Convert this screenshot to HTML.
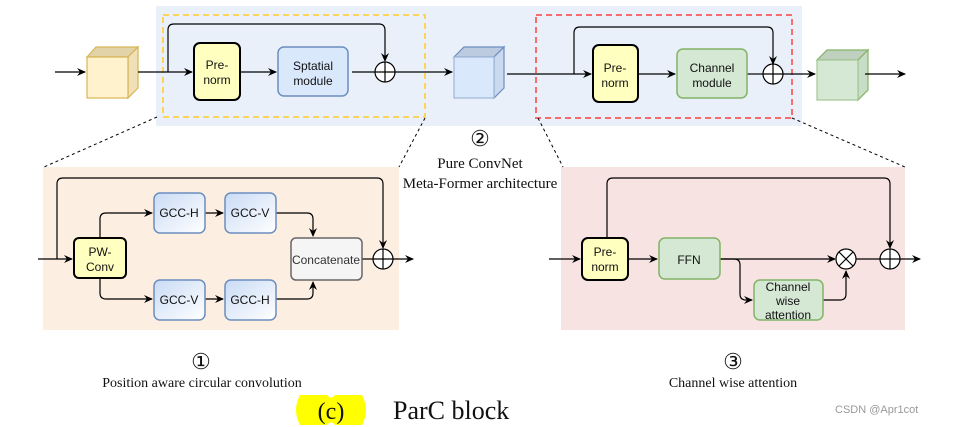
<!DOCTYPE html>
<html><head><meta charset="utf-8"><style>
html,body{margin:0;padding:0;background:#fff;}
svg{display:block;}
.s{font-family:"Liberation Sans",sans-serif;font-size:12px;fill:#111;}
.t{font-family:"Liberation Serif",serif;fill:#111;}
</style></head><body>
<svg width="961" height="427" viewBox="0 0 961 427" xmlns="http://www.w3.org/2000/svg">
<defs>
<marker id="a" markerWidth="10" markerHeight="10" refX="8" refY="5" orient="auto" markerUnits="userSpaceOnUse"><path d="M0,1 L9,5 L0,9 L3,5 Z" fill="#000"/></marker>
<linearGradient id="g" x1="0" y1="0" x2="1" y2="1"><stop offset="0" stop-color="#c9dbf5"/><stop offset="1" stop-color="#ffffff"/></linearGradient>
</defs>
<rect x="156" y="6" width="646" height="120" fill="#e9f0fa"/>
<rect x="43" y="167" width="356" height="163" fill="#fdeee2"/>
<rect x="561" y="167" width="344" height="163" fill="#f8e3e3"/>
<rect x="163" y="15" width="262" height="102" fill="none" stroke="#fdd35a" stroke-width="2" stroke-dasharray="6,4"/>
<rect x="536" y="15" width="256" height="103" fill="none" stroke="#fb6b6b" stroke-width="2" stroke-dasharray="6,4"/>
<g stroke="#000" stroke-width="1" stroke-dasharray="3,3">
<line x1="157" y1="117" x2="44" y2="167"/><line x1="425" y1="118" x2="399" y2="167"/>
<line x1="538" y1="118" x2="563" y2="167"/><line x1="792" y1="118" x2="905" y2="167"/>
</g>
<g stroke-width="1.2">
<path d="M87,57 L96,47 L138,47 L128,57 Z" fill="#e3d3a8" stroke="#d6b656"/>
<path d="M128,57 L138,47 L138,88 L128,98 Z" fill="#efe0b8" stroke="#d6b656"/>
<rect x="87" y="57" width="41" height="41" fill="#fff2cc" stroke="#d6b656"/>
<path d="M454,57 L464,47 L504,47 L494,57 Z" fill="#bccbe0" stroke="#6c8ebf"/>
<path d="M494,57 L504,47 L504,88 L494,98 Z" fill="#c9d9ef" stroke="#6c8ebf"/>
<rect x="454" y="57" width="40" height="41" fill="#dae8fc" stroke="#9fb6d8"/>
<path d="M817,60 L827,50 L868,50 L858,60 Z" fill="#bfd0be" stroke="#82b366"/>
<path d="M858,60 L868,50 L868,90 L858,100 Z" fill="#c9dcc8" stroke="#82b366"/>
<rect x="817" y="60" width="41" height="40" fill="#d5e8d4" stroke="#a3c794"/>
</g>
<g stroke="#000" stroke-width="1.2" fill="none">
<line x1="55" y1="72" x2="85" y2="72" marker-end="url(#a)"/>
<line x1="138" y1="72" x2="192" y2="72" marker-end="url(#a)"/>
<path d="M168,72 V30 Q168,24 174,24 H379 Q385,24 385,30 V61" marker-end="url(#a)"/>
<line x1="240" y1="72" x2="276" y2="72" marker-end="url(#a)"/>
<line x1="352" y1="72" x2="375" y2="72"/>
<line x1="395" y1="72" x2="452" y2="72" marker-end="url(#a)"/>
<circle cx="385" cy="72" r="10" fill="#fff"/><line x1="375" y1="72" x2="395" y2="72"/><line x1="385" y1="62" x2="385" y2="82"/>
<line x1="507" y1="74" x2="591" y2="74" marker-end="url(#a)"/>
<path d="M574,74 V33 Q574,27 580,27 H767 Q773,27 773,33 V64" marker-end="url(#a)"/>
<line x1="638" y1="74" x2="675" y2="74" marker-end="url(#a)"/>
<line x1="747" y1="74" x2="763" y2="74"/>
<line x1="783" y1="74" x2="815" y2="74" marker-end="url(#a)"/>
<line x1="865" y1="74" x2="905" y2="74" marker-end="url(#a)"/>
<circle cx="773" cy="74" r="10" fill="#fff"/><line x1="763" y1="74" x2="783" y2="74"/><line x1="773" y1="64" x2="773" y2="84"/>
</g>
<rect x="194" y="43" width="46" height="57" rx="6" fill="#ffffc0" stroke="#000" stroke-width="2"/>
<text class="s" x="217" y="69" text-anchor="middle">Pre-</text><text class="s" x="217" y="84" text-anchor="middle">norm</text>
<rect x="278" y="47" width="70" height="49" rx="6" fill="#dae8fc" stroke="#6c8ebf" stroke-width="1.5"/>
<text class="s" x="313" y="70" text-anchor="middle">Sptatial</text><text class="s" x="313" y="85" text-anchor="middle">module</text>
<rect x="593" y="45" width="45" height="57" rx="6" fill="#ffffc0" stroke="#000" stroke-width="2"/>
<text class="s" x="615" y="72" text-anchor="middle">Pre-</text><text class="s" x="615" y="87" text-anchor="middle">norm</text>
<rect x="677" y="49" width="70" height="49" rx="6" fill="#d5e8d4" stroke="#82b366" stroke-width="1.5"/>
<text class="s" x="712" y="72" text-anchor="middle">Channel</text><text class="s" x="712" y="87" text-anchor="middle">module</text>
<g stroke="#000" stroke-width="1.2" fill="none">
<line x1="38" y1="259" x2="72" y2="259" marker-end="url(#a)"/>
<path d="M57,259 V184 Q57,178 63,178 H377 Q383,178 383,184 V248" marker-end="url(#a)"/>
<path d="M100,238 V219 Q100,213 106,213 H152" marker-end="url(#a)"/>
<path d="M100,278 V293 Q100,299 106,299 H152" marker-end="url(#a)"/>
<line x1="205" y1="213" x2="223" y2="213" marker-end="url(#a)"/>
<line x1="205" y1="299" x2="223" y2="299" marker-end="url(#a)"/>
<path d="M276,213 H307 Q313,213 313,219 V236" marker-end="url(#a)"/>
<path d="M276,299 H307 Q313,299 313,293 V282" marker-end="url(#a)"/>
<line x1="362" y1="259" x2="373" y2="259"/>
<line x1="393" y1="259" x2="413" y2="259" marker-end="url(#a)"/>
<circle cx="383" cy="259" r="10" fill="#fff"/><line x1="373" y1="259" x2="393" y2="259"/><line x1="383" y1="249" x2="383" y2="269"/>
</g>
<rect x="74" y="238" width="52" height="40" rx="5" fill="#ffffc0" stroke="#000" stroke-width="2"/>
<text class="s" x="100" y="256" text-anchor="middle">PW-</text><text class="s" x="100" y="271" text-anchor="middle">Conv</text>
<g stroke="#6c8ebf" stroke-width="1.5" fill="url(#g)">
<rect x="154" y="193" width="51" height="40" rx="6"/><rect x="225" y="193" width="51" height="40" rx="6"/>
<rect x="154" y="280" width="51" height="40" rx="6"/><rect x="225" y="280" width="51" height="40" rx="6"/>
</g>
<text class="s" x="179" y="217" text-anchor="middle">GCC-H</text><text class="s" x="250" y="217" text-anchor="middle">GCC-V</text>
<text class="s" x="179" y="304" text-anchor="middle">GCC-V</text><text class="s" x="250" y="304" text-anchor="middle">GCC-H</text>
<rect x="291" y="238" width="71" height="42" rx="5" fill="#f5f5f5" stroke="#666" stroke-width="1.5"/>
<text class="s" x="326" y="264" text-anchor="middle" style="fill:#333">Concatenate</text>
<g stroke="#000" stroke-width="1.2" fill="none">
<line x1="549" y1="259" x2="580" y2="259" marker-end="url(#a)"/>
<path d="M607,238 V184 Q607,178 613,178 H884 Q890,178 890,184 V248" marker-end="url(#a)"/>
<line x1="628" y1="259" x2="657" y2="259" marker-end="url(#a)"/>
<line x1="720" y1="259" x2="835" y2="259" marker-end="url(#a)"/>
<path d="M720,259 H734 Q740,259 740,265 V294 Q740,300 746,300 H752" marker-end="url(#a)"/>
<path d="M823,300 H840 Q846,300 846,294 V271" marker-end="url(#a)"/>
<line x1="856" y1="259" x2="880" y2="259"/>
<line x1="900" y1="259" x2="920" y2="259" marker-end="url(#a)"/>
<circle cx="846" cy="259" r="10" fill="#fff"/><line x1="839" y1="252" x2="853" y2="266"/><line x1="853" y1="252" x2="839" y2="266"/>
<circle cx="890" cy="259" r="10" fill="#fff"/><line x1="880" y1="259" x2="900" y2="259"/><line x1="890" y1="249" x2="890" y2="269"/>
</g>
<rect x="582" y="238" width="46" height="42" rx="6" fill="#ffffc0" stroke="#000" stroke-width="2"/>
<text class="s" x="605" y="256" text-anchor="middle">Pre-</text><text class="s" x="605" y="271" text-anchor="middle">norm</text>
<rect x="659" y="238" width="61" height="41" rx="6" fill="#d5e8d4" stroke="#82b366" stroke-width="1.5"/>
<text class="s" x="689" y="264" text-anchor="middle">FFN</text>
<rect x="754" y="280" width="69" height="40" rx="6" fill="#d5e8d4" stroke="#82b366" stroke-width="1.5"/>
<text class="s" x="788" y="291" text-anchor="middle">Channel</text><text class="s" x="788" y="305" text-anchor="middle">wise</text><text class="s" x="788" y="319" text-anchor="middle">attention</text>
<text class="t" x="480" y="146" font-size="22" text-anchor="middle">②</text>
<text class="t" x="480" y="168" font-size="15" text-anchor="middle">Pure ConvNet</text>
<text class="t" x="480" y="188" font-size="15" text-anchor="middle">Meta-Former architecture</text>
<text class="t" x="201" y="369" font-size="22" text-anchor="middle">①</text>
<text class="t" x="202" y="387" font-size="14" text-anchor="middle">Position aware circular convolution</text>
<text class="t" x="733" y="369" font-size="22" text-anchor="middle">③</text>
<text class="t" x="733" y="387" font-size="14" text-anchor="middle">Channel wise attention</text>
<path d="M300,395 H327 Q331,400 335,395 H362 Q370,410 362,425 H335 Q331,420 327,425 H300 Q292,410 300,395 Z" fill="#ffff00"/>
<text class="t" x="331" y="419" font-size="24" text-anchor="middle">(c)</text>
<text class="t" x="393" y="419" font-size="26">ParC block</text>
<text x="835" y="413" font-family="Liberation Sans,sans-serif" font-size="11" fill="#999">CSDN @Apr1cot</text>
</svg>
</body></html>
